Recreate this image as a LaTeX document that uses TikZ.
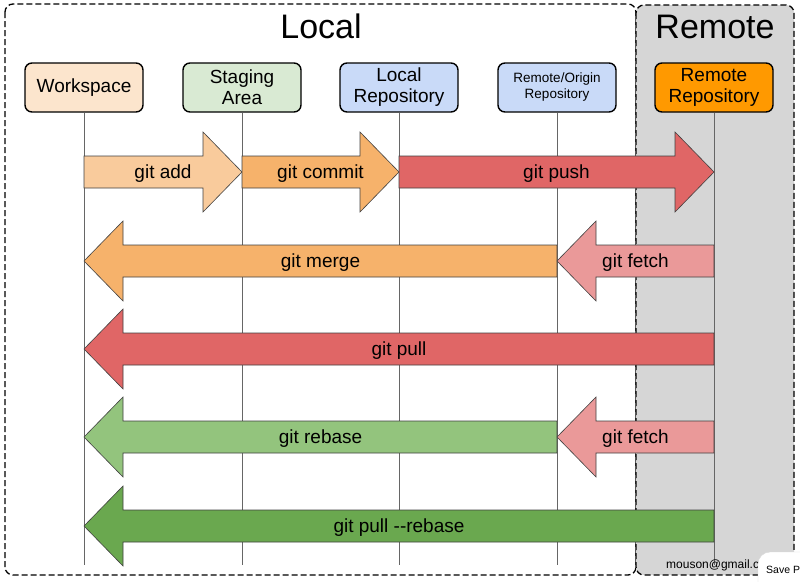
\documentclass[tikz,border=0pt]{standalone}
\usepackage{fontspec}
\setmainfont{Liberation Sans}
\usetikzlibrary{calc}
\definecolor{wsfill}{HTML}{FCE5CD}
\definecolor{stfill}{HTML}{D9EAD3}
\definecolor{repofill}{HTML}{C9DAF8}
\definecolor{remotefill}{HTML}{FF9900}
\definecolor{remotegray}{HTML}{D6D6D6}
\definecolor{addfill}{HTML}{F9CB9C}
\definecolor{commitfill}{HTML}{F6B26B}
\definecolor{pushfill}{HTML}{E06666}
\definecolor{fetchfill}{HTML}{EA9999}
\definecolor{rebasefill}{HTML}{93C47D}
\definecolor{prfill}{HTML}{6AA84F}
% fat arrow from lifeline #1 to lifeline #2 on row #3
\newcommand\gitarrow[5]{%
\draw[fatarrow, fill=#4] let \p1=(#1 |- #3), \p2=(#2 |- #3), \n1={(\x2>\x1) ? 39 : -39} in
  (\x1,{\y1+16pt}) -- ({\x2-(\n1)*1pt},{\y1+16pt}) -- ({\x2-(\n1)*1pt},{\y1+40pt})
  -- (\x2,\y1) -- ({\x2-(\n1)*1pt},{\y1-40pt}) -- ({\x2-(\n1)*1pt},{\y1-16pt})
  -- (\x1,{\y1-16pt}) -- cycle
  ({(\x1+\x2)/2},\y1) node[arrowtext] {#5};
}
\begin{document}
\begin{tikzpicture}[x=1pt,y=-1pt,
    place/.style={draw=black, line width=1.4pt, rounded corners=7pt, minimum width=118pt,
        minimum height=49pt, align=center, font=\fontsize{19}{21}\selectfont},
    life/.style={draw=black!60, line width=1pt},
    fatarrow/.style={draw=black!75, line width=0.6pt},
    arrowtext/.style={font=\fontsize{19}{21}\selectfont, yshift=-1.5pt},
    title/.style={font=\fontsize{34}{36}\selectfont, anchor=base},
    area/.style={dashed, dash pattern=on 6pt off 3pt, line width=1.3pt, rounded corners=8pt}]
\useasboundingbox (0,0) rectangle (800,581);

\draw[area] (5,4) rectangle (636,575);
\draw[area, fill=remotegray] (636,5) rectangle (794,575);
\node[title] (localtitle) at (321,38) {Local};
\node[title] (remotetitle) at (715,38) {Remote};

\node[place, fill=wsfill] (ws) at (84,87.5) {Workspace};
\node[place, fill=stfill] (stage) at (242,87.5) {Staging\\Area};
\node[place, fill=repofill] (local) at (399,87.5) {Local\\Repository};
\node[place, fill=repofill, font=\fontsize{13.5}{16}\selectfont] (origin) at (557,87.5) {Remote/Origin\\Repository};
\node[place, fill=remotefill] (remote) at (714,87.5) {Remote\\Repository};

\coordinate (bot) at (0,565);
\foreach \n in {ws,stage,local,origin,remote}
{
    \draw[life] (\n.south) -- (\n.south |- bot);
}

\foreach \r/\y in {r1/172, r2/261, r3/349, r4/437, r5/526}
{
    \coordinate (\r) at (0,\y);
}

\gitarrow{ws}{stage}{r1}{addfill}{git add}
\gitarrow{stage}{local}{r1}{commitfill}{git commit}
\gitarrow{local}{remote}{r1}{pushfill}{git push}
\gitarrow{origin}{ws}{r2}{commitfill}{git merge}
\gitarrow{remote}{origin}{r2}{fetchfill}{git fetch}
\gitarrow{remote}{ws}{r3}{pushfill}{git pull}
\gitarrow{origin}{ws}{r4}{rebasefill}{git rebase}
\gitarrow{remote}{origin}{r4}{fetchfill}{git fetch}
\gitarrow{remote}{ws}{r5}{prfill}{git pull -{}-rebase}

\node[anchor=base west, font=\fontsize{12}{14}\selectfont, inner sep=0pt] (mail) at (666,568) {mouson@gmail.c};
\begin{scope}
\clip (0,0) rectangle (800,581);
\draw[draw=black!15, fill=white, rounded corners=12pt] (758,552) rectangle (830,600);
\node[anchor=base west, font=\fontsize{10.5}{12}\selectfont, inner sep=0pt] (save) at (766,573) {Save P};
\end{scope}
\end{tikzpicture}
\end{document}
